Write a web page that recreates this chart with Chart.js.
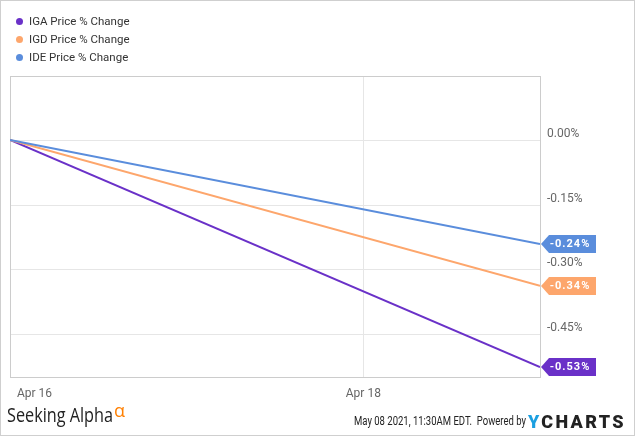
<!DOCTYPE html>
<html>
<head>
<meta charset="utf-8">
<script src="https://cdn.jsdelivr.net/npm/chart.js@4.4.1/dist/chart.umd.min.js"></script>
<style>
  html, body { margin: 0; padding: 0; background: #fff; }
  #wrap { position: relative; width: 635px; height: 436px; overflow: hidden; font-family: Roboto, sans-serif; }
  #frame { position: absolute; left: 0; top: 0; width: 635px; height: 436px; box-sizing: border-box; border: 1px solid #cfcfcf; pointer-events: none; }
  #chart { position: absolute; left: 0; top: 0; }
  #legend { position: absolute; left: 16px; top: 12px; font-size: 11.5px; color: #333; }
  #legend div { height: 18px; line-height: 18px; white-space: nowrap; }
  #legend span.dot { display: inline-block; width: 7px; height: 7px; border-radius: 50%; margin-right: 6px; vertical-align: 0px; }
  .fit { position: absolute; white-space: nowrap; transform-origin: 0 0; }
  #sa { left: 7px; top: 401px; font-family: "Open Sans", sans-serif; font-size: 20px; color: #222; }
  #alpha { left: 114px; top: 398px; font-family: "Open Sans", sans-serif; font-size: 18px; color: #ff7f00; }
  #stamp { left: 354px; top: 414px; font-family: Roboto, sans-serif; font-size: 12px; color: #222; }
  #ych { position: absolute; left: 528px; top: 411px; font-family: Roboto, sans-serif; font-weight: 900; font-size: 18px; letter-spacing: 2.3px; color: #222; white-space: nowrap; }
  #ych b { color: #1b9fe0; }
</style>
</head>
<body>
<div id="wrap">
  <canvas id="chart" width="635" height="436"></canvas>
  <div id="legend"></div>
  <div id="sa" class="fit" data-w="106">Seeking Alpha</div>
  <div id="alpha" class="fit">α</div>
  <div id="stamp" class="fit" data-w="172">May&nbsp;08 2021, 11:30AM EDT.&nbsp; Powered by</div>
  <div id="ych"><b>Y</b>CHARTS</div>
  <div id="frame"></div>
</div>
<script>
// ==============================
// DATA
// ==============================
const seriesNames = ["IGA Price % Change", "IGD Price % Change", "IDE Price % Change"];
const seriesColors = ["#6a31c8", "#fda66c", "#5a8ddc"];

// day of month (April 2021)
const days = [16, 19];
const igaValues = [0, -0.526];
const igdValues = [0, -0.338];
const ideValues = [0, -0.241];

const xTickDays = [16, 18];
const xTickLabels = ["Apr 16", "Apr 18"];
const yTicks = [0, -0.15, -0.30, -0.45];
const yTickLabels = ["0.00%", "-0.15%", "-0.30%", "-0.45%"];

const allValues = [igaValues, igdValues, ideValues];

// ==============================
// LEGEND + footer squeeze
// ==============================
const legend = document.getElementById("legend");
seriesNames.forEach((name, i) => {
  const row = document.createElement("div");
  row.innerHTML = `<span class="dot" style="background:${seriesColors[i]}"></span>${name}`;
  legend.appendChild(row);
});

document.querySelectorAll(".fit[data-w]").forEach((el) => {
  const w = el.getBoundingClientRect().width;
  const target = Number(el.dataset.w);
  el.style.transform = `scaleX(${target / w})`;
});

// ==============================
// EXTRA DRAWING: grid, frame, ticks, end tags
// ==============================
const decorations = {
  id: "decorations",
  beforeDatasetsDraw(chart) {
    const { ctx, chartArea: a, scales } = chart;
    ctx.save();
    ctx.strokeStyle = "#e6e6e6";
    ctx.lineWidth = 1;
    yTicks.forEach((v) => {
      const y = Math.round(scales.y.getPixelForValue(v)) + 0.5;
      ctx.beginPath();
      ctx.moveTo(a.left, y);
      ctx.lineTo(a.right, y);
      ctx.stroke();
    });
    xTickDays.forEach((d) => {
      const x = Math.round(scales.x.getPixelForValue(d)) + 0.5;
      if (x <= a.left + 1) return;
      ctx.beginPath();
      ctx.moveTo(x, a.top);
      ctx.lineTo(x, a.bottom);
      ctx.stroke();
    });
    ctx.strokeStyle = "#cccccc";
    ctx.strokeRect(Math.round(a.left) + 0.5, Math.round(a.top) + 0.5,
      Math.round(a.right - a.left), Math.round(a.bottom - a.top));
    ctx.restore();
  },
  afterDatasetsDraw(chart) {
    const { ctx, chartArea: a, scales } = chart;
    ctx.save();

    // y tick labels (right side)
    ctx.font = "12px Roboto";
    ctx.fillStyle = "#666";
    ctx.textAlign = "left";
    ctx.textBaseline = "middle";
    yTicks.forEach((v, i) => {
      ctx.fillText(yTickLabels[i], a.right + 7, scales.y.getPixelForValue(v) - 6);
    });

    // x tick labels
    ctx.textAlign = "center";
    xTickDays.forEach((d, i) => {
      const w = ctx.measureText(xTickLabels[i]).width;
      const x = Math.max(scales.x.getPixelForValue(d), a.left + 7 + w / 2);
      ctx.fillText(xTickLabels[i], x, a.bottom + 17);
    });

    // end-value tags
    ctx.font = "bold 11px Roboto";
    ctx.letterSpacing = "1px";
    chart.data.datasets.forEach((ds, i) => {
      const meta = chart.getDatasetMeta(i);
      const pt = meta.data[meta.data.length - 1];
      const x0 = pt.x + 1;
      const y = pt.y;
      ctx.fillStyle = ds.borderColor;
      ctx.beginPath();
      ctx.moveTo(x0, y);
      ctx.lineTo(x0 + 8, y - 9);
      ctx.lineTo(x0 + 55, y - 9);
      ctx.lineTo(x0 + 55, y + 9);
      ctx.lineTo(x0 + 8, y + 9);
      ctx.closePath();
      ctx.fill();
      const v = ds.data[ds.data.length - 1].y;
      ctx.fillStyle = "#fff";
      ctx.fillText(v.toFixed(2) + "%", x0 + 29, y + 0.5);
    });
    ctx.restore();
  }
};

// ==============================
// CHART
// ==============================
const ctx = document.getElementById("chart").getContext("2d");

new Chart(ctx, {
  type: "line",
  data: {
    datasets: seriesNames.map((name, i) => ({
      label: name,
      data: days.map((d, j) => ({ x: d, y: allValues[i][j] })),
      borderColor: seriesColors[i],
      borderWidth: 2,
      pointRadius: 0,
      tension: 0,
      fill: false,
    })).reverse(),
  },
  options: {
    responsive: false,
    animation: false,
    layout: { padding: { left: 10, top: 76, right: 95, bottom: 59 } },
    scales: {
      x: { type: "linear", display: false, min: 16, max: 19 },
      y: { display: false, min: -0.549, max: 0.148 },
    },
    plugins: {
      legend: { display: false },
      tooltip: { enabled: false },
    },
  },
  plugins: [decorations],
});
</script>
</body>
</html>
